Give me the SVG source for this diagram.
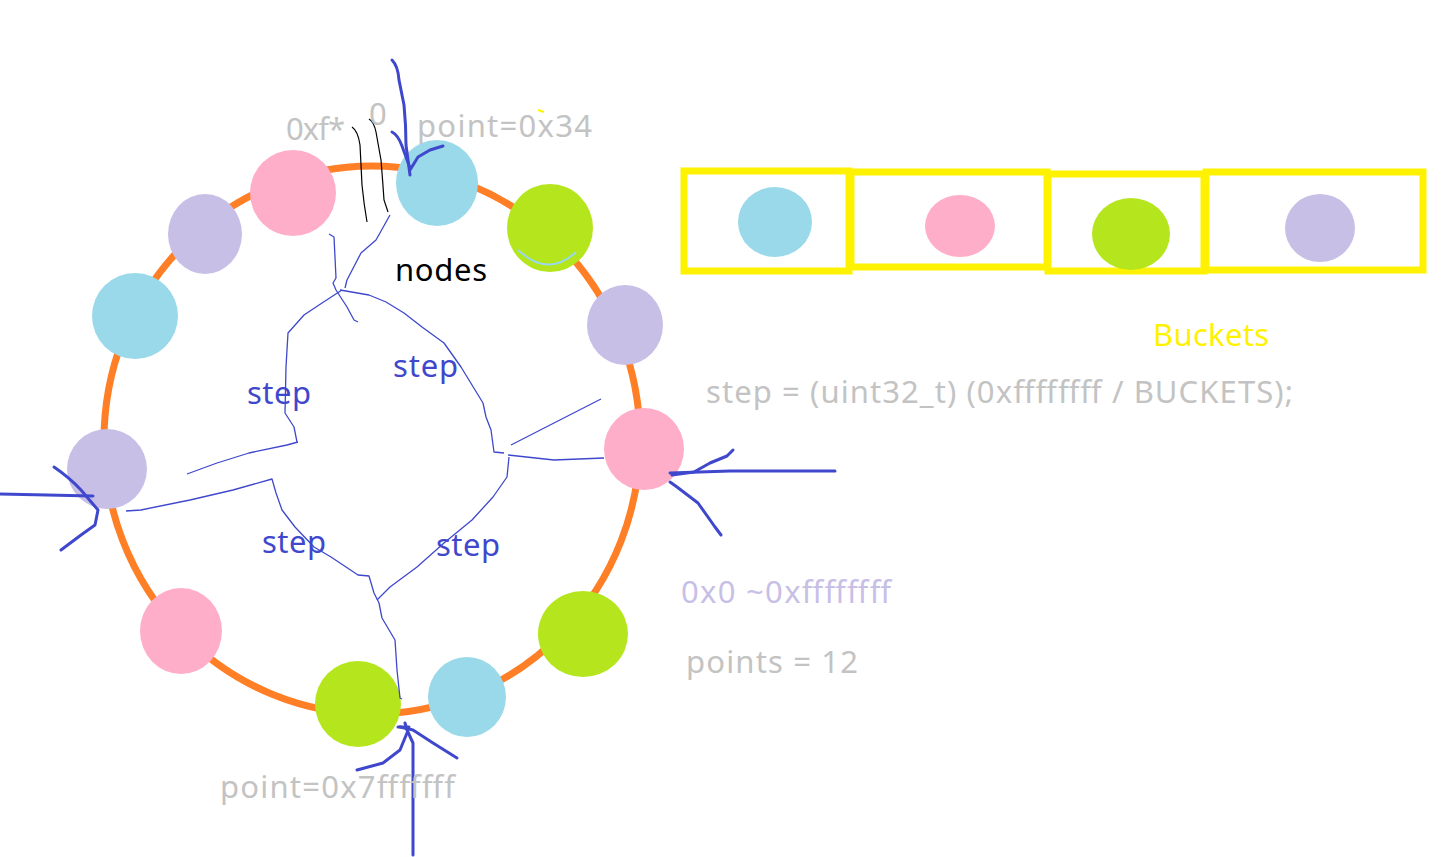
<svg xmlns="http://www.w3.org/2000/svg" width="1453" height="857" viewBox="0 0 1453 857">
<style>
text{font-family:"Noto Sans","Open Sans","Liberation Sans",sans-serif;font-size:31px}
.g{fill:#C3C3C3}
.s{fill:#3F48CC}
.blue{fill:#99D9EA}.pink{fill:#FFAEC9}.green{fill:#B5E61D}.lav{fill:#C8BFE7}
.pen{fill:none;stroke:#3F48CC;stroke-width:3;stroke-linecap:round;stroke-linejoin:round}
.thin{fill:none;stroke:#3F48CC;stroke-width:1.3;stroke-linejoin:round}
.blk{fill:none;stroke:#000;stroke-width:1.2}
.box{fill:none;stroke:#FFF200;stroke-width:7}
</style>
<rect width="1453" height="857" fill="#fff"/>
<g id="ring"><ellipse cx="372" cy="440" rx="268" ry="274" fill="none" stroke="#FF7F27" stroke-width="7"/></g>
<g id="n1"><ellipse class="pink" cx="293" cy="193" rx="43" ry="43"/></g>
<g id="n2"><ellipse class="lav" cx="205" cy="234" rx="37" ry="40"/></g>
<g id="n3"><ellipse class="blue" cx="135" cy="316" rx="43" ry="43"/></g>
<g id="n4"><ellipse class="lav" cx="107" cy="469" rx="40" ry="40"/></g>
<g id="n5"><ellipse class="pink" cx="181" cy="631" rx="41" ry="43"/></g>
<g id="n6"><ellipse class="green" cx="358" cy="704" rx="43" ry="43"/></g>
<g id="n7"><ellipse class="blue" cx="467" cy="697" rx="39" ry="40"/></g>
<g id="n8"><ellipse class="green" cx="583" cy="634" rx="45" ry="43"/></g>
<g id="n9"><ellipse class="pink" cx="644" cy="449" rx="40" ry="41"/></g>
<g id="n10"><ellipse class="lav" cx="625" cy="325" rx="38" ry="40"/></g>
<g id="n11"><ellipse class="green" cx="550" cy="228" rx="43" ry="44"/><path d="M518,250 Q548,278 576,252" fill="none" stroke="#99D9EA" stroke-width="2"/></g>
<g id="n12"><ellipse class="blue" cx="437" cy="183" rx="41" ry="43"/></g>
<g id="buckets">
<rect class="box" x="684" y="171" width="165" height="100"/>
<rect class="box" x="851" y="172" width="196" height="95"/>
<rect class="box" x="1048" y="174" width="156" height="97"/>
<rect class="box" x="1206" y="172" width="217" height="98"/>
<ellipse class="blue" cx="775" cy="222" rx="37" ry="35"/>
<ellipse class="pink" cx="960" cy="226" rx="35" ry="31"/>
<ellipse class="green" cx="1131" cy="234" rx="39" ry="36"/>
<ellipse class="lav" cx="1320" cy="228" rx="35" ry="34"/>
</g>
<g id="connectors">
<path class="blk" d="M352,127 Q358,131 360,145 L362,185 Q364,205 367,222"/>
<path class="blk" d="M369,119 Q374,122 376,132 L381,160 Q383,185 384,200 L388,212"/>
<path class="thin" d="M390,215 L376,240 L361,253 L347,280 L345,288"/>
<path class="thin" d="M329,234 L334,237 L336,278 L333,283 L336,290 L347,307 L354,320 L358,322"/>
<path class="thin" d="M340,290 L369,295 L386,302 L404,313 L422,327 L444,343 L461,367 L483,403 L486,417 L491,430 L494,452 L504,453"/>
<path class="thin" d="M511,445 L554,423 L601,399"/>
<path class="thin" d="M508,455 L554,460 L604,458"/>
<path class="thin" d="M342,290 L322,303 L304,315 L288,333 L286,367 L285,413 L294,427 L297,442"/>
<path class="thin" d="M298,442 L287,445 L249,453 L217,463 L187,474"/>
<path class="thin" d="M126,511 L141,510 L190,500 L233,490 L272,479 L276,493 L282,510 L295,527 L314,547 L331,557 L358,575 L369,576 L374,593 L379,603 L382,618 L395,640 L397,670 L400,698 L402,699"/>
<path class="thin" d="M509,457 L507,477 L493,497 L472,520 L444,543 L417,567 L390,587 L377,600"/>
<path class="pen" d="M392,60 Q398,66 399,80 L404,105 Q406,125 406,145 L410,175"/>
<path class="pen" d="M392,132 Q398,135 402,146 L410,168"/>
<path class="pen" d="M443,146 L430,150 L418,157 L410,170"/>
<path class="pen" d="M835,471 L730,471 L670,473"/>
<path class="pen" d="M733,450 L727,456 L710,463 L694,472 L672,475"/>
<path class="pen" d="M670,482 L677,487 L698,503 L715,527 L721,535"/>
<path class="pen" d="M0,494 L93,496"/>
<path class="pen" d="M54,467 Q70,478 81,490 L98,510 L95,525 L81,535 L61,550"/>
<path class="pen" d="M413,855 L413,743 L407,730 L405,723"/>
<path class="pen" d="M357,770 L383,763 L400,750 L407,733"/>
<path class="pen" d="M457,758 L433,743 L413,730 L400,727"/>
<path class="pen" d="M398,727 L409,727"/>
<path d="M538,110 L544,112" stroke="#FFF200" stroke-width="2"/>
</g>
<g id="labels">
<text class="g" x="286" y="140" textLength="59">0xf*</text>
<text class="g" x="369" y="125">0</text>
<text class="g" x="417" y="137" textLength="175">point=0x34</text>
<text x="395" y="281" fill="#000" textLength="92">nodes</text>
<text class="s" x="247" y="404" textLength="64">step</text>
<text class="s" x="393" y="377" textLength="65">step</text>
<text class="s" x="262" y="553" textLength="64">step</text>
<text class="s" x="436" y="556" textLength="64">step</text>
<text x="1153" y="346" fill="#FFF200" textLength="116">Buckets</text>
<text class="g" x="706" y="403" textLength="587">step = (uint32_t) (0xffffffff / BUCKETS);</text>
<text x="681" y="603" fill="#C8BFE7" textLength="210">0x0 ~0xffffffff</text>
<text class="g" x="686" y="673" textLength="172">points = 12</text>
<text class="g" x="220" y="798" textLength="235">point=0x7fffffff</text>
</g>
</svg>
